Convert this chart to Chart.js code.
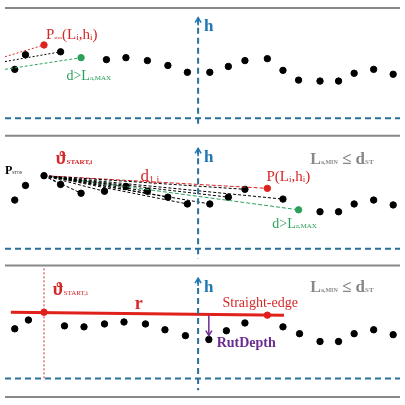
<!DOCTYPE html>
<html><head><meta charset="utf-8">
<script src="https://cdn.jsdelivr.net/npm/chart.js@4/dist/chart.umd.min.js"></script>
<style>html,body{margin:0;padding:0;background:#fff}#c{width:405px;height:405px}</style>
</head><body><div id="c"><canvas id="cv" width="405" height="405"></canvas></div>
<script>
// Profile points (distance, height) for each panel
const p1x=[10,21,57,104,124,146,167,187,210,229,246,269,285,301,323,342,358,378,398];
const p1y=[66,51,48,56,54,57,62,69,69,63,57,55,67,77,78,78,70,66,71];
const p2x=[10,21,40,57,78,102,124,146,167,187,210,229,246,285,323,342,358,378,398];
const p2y=[200,185,175,184,193,191,186,191,197,204,204,197,189,199,212,212,204,200,205];
const p3x=[10,24,61,81,102,122,144,164,185,209,227,246,285,302,323,342,358,378,398];
const p3y=[332,323,329,330,327,325,327,333,339,343,334,326,330,337,345,345,337,333,338];
const red1=[40,41], green1=[78,54];
const red2=[269,188], green2=[301,210], stos2=[40,175];
const edge=[[6,315],[286,318]], red3=[[40,315],[269,318]];
const fanTargets=[57,78,102,124,146,167,187,210,229,246,285];
const sepY=[3,134,267,402];
const baseY=[116,250,383];
const hx=198;

const pts=(xs,ys)=>xs.map((x,i)=>({x,y:ys[i]}));
const ds=[];
const line=(data,color,dash,w)=>ds.push({type:'line',data,borderColor:color,borderDash:dash||[],borderWidth:w||1,pointRadius:0,fill:false,showLine:true});
sepY.forEach(y=>line([{x:0,y},{x:405,y}],'#888',[],2));
baseY.forEach(y=>line([{x:0,y},{x:405,y}],'#2a6f97',[6,4],2));
[[13,125],[147,260],[280,395]].forEach(([a,b])=>line([{x:hx,y:a},{x:hx,y:b}],'#2a6f97',[6,4],2));
line([{x:0,y:53},{x:red1[0],y:red1[1]}],'#d62728',[2,2],1);
line([{x:0,y:58},{x:57,y:48}],'#000',[2,2],1);
line([{x:0,y:66},{x:green1[0],y:green1[1]}],'#2ca05a',[3,2],1);
fanTargets.forEach(t=>{const i=p2x.indexOf(t);line([{x:stos2[0],y:stos2[1]},{x:t,y:p2y[i]}],'#000',[3,2],1);});
line([{x:stos2[0],y:stos2[1]},{x:red2[0],y:red2[1]}],'#d62728',[4,2],1);
line([{x:stos2[0],y:stos2[1]},{x:green2[0],y:green2[1]}],'#2ca05a',[4,2],1);
line([{x:40,y:270},{x:40,y:385}],'#d62728',[2,2],1);
line(edge.map(([x,y])=>({x,y})),'#e0201b',[],3);
const sc=(data,c,r)=>ds.push({type:'scatter',data,backgroundColor:c,borderColor:c,pointRadius:r||3.2});
sc(pts(p1x,p1y),'#000');sc(pts(p2x,p2y),'#000');sc(pts(p3x,p3y),'#000');
sc([{x:red1[0],y:red1[1]},{x:red2[0],y:red2[1]}].concat(red3.map(([x,y])=>({x,y}))),'#e0201b');
sc([{x:green1[0],y:green1[1]},{x:green2[0],y:green2[1]}],'#2ca05a');

const labels={id:'labels',afterDatasetsDraw(ch){
 const c=ch.ctx,X=v=>ch.scales.x.getPixelForValue(v),Y=v=>ch.scales.y.getPixelForValue(v);
 const serif='"Liberation Serif", "DejaVu Serif", serif';
 // run of [text, font, dy] pieces, laid out left to right
 const run=(x,y,col,parts)=>{c.fillStyle=col;c.textBaseline='alphabetic';let px=X(x);
  parts.forEach(([s,f,dy])=>{c.font=f+' '+serif;c.fillText(s,px,Y(y)+(dy||0));px+=c.measureText(s).width;});};
 const arrow=(x,y0,y1,col)=>{c.strokeStyle=col;c.lineWidth=1.5;c.beginPath();c.moveTo(X(x),Y(y0));c.lineTo(X(x),Y(y1));c.stroke();
  const d=y1<y0?-1:1;c.beginPath();c.moveTo(X(x)-3,Y(y1)-d*5);c.lineTo(X(x),Y(y1));c.lineTo(X(x)+3,Y(y1)-d*5);c.stroke();};
 c.save();
 [13,147,280].forEach(y=>{arrow(hx,y+8,y,'#1f77b4');run(hx+6,y+14,'#1f77b4',[['h','bold 17px']]);});
 run(42,35,'#d62728',[['P','15px'],['stos','5px'],['(L','15px'],['i','9px',1],[',h','15px'],['i','9px',1],[')','15px']]);
 run(63,77,'#2ca05a',[['d>L','14px'],['a,MAX','7px']]);
 [163,294].forEach(y=>run(313,y,'#888',[['L','bold 16px'],['a,MIN','bold 6px'],[' ≤ d','bold 17px'],['ST','bold 7px']]));
 run(0,173,'#000',[['P','bold 12px'],['STOS','4px']]);
 run(52,163,'#d62728',[['ϑ','bold 18px'],['START,i','bold 7px']]);
 run(139,180,'#d62728',[['d','17px'],['1,i','10px',2]]);
 run(268,180,'#d62728',[['P(L','15px'],['i','9px',1],[',h','15px'],['i','9px',1],[')','15px']]);
 run(274,229,'#2ca05a',[['d>L','14px'],['a,MAX','7px']]);
 run(49,297,'#d62728',[['ϑ','bold 18px'],['START,i','7px']]);
 run(133,312,'#d62728',[['r','bold 18px']]);
 run(223,310,'#d62728',[['Straight-edge','14px']]);
 arrow(209,318,339,'#6a2c91');
 run(217,351,'#6a2c91',[['RutDepth','bold 14px']]);
 c.restore();}};

new Chart(document.getElementById('cv'),{data:{datasets:ds},plugins:[labels],
 options:{responsive:false,animation:false,layout:{padding:0},
 plugins:{legend:{display:false},tooltip:{enabled:false}},
 scales:{x:{type:'linear',min:0,max:405,display:false},y:{type:'linear',min:0,max:405,reverse:true,display:false}}}});
</script></body></html>
